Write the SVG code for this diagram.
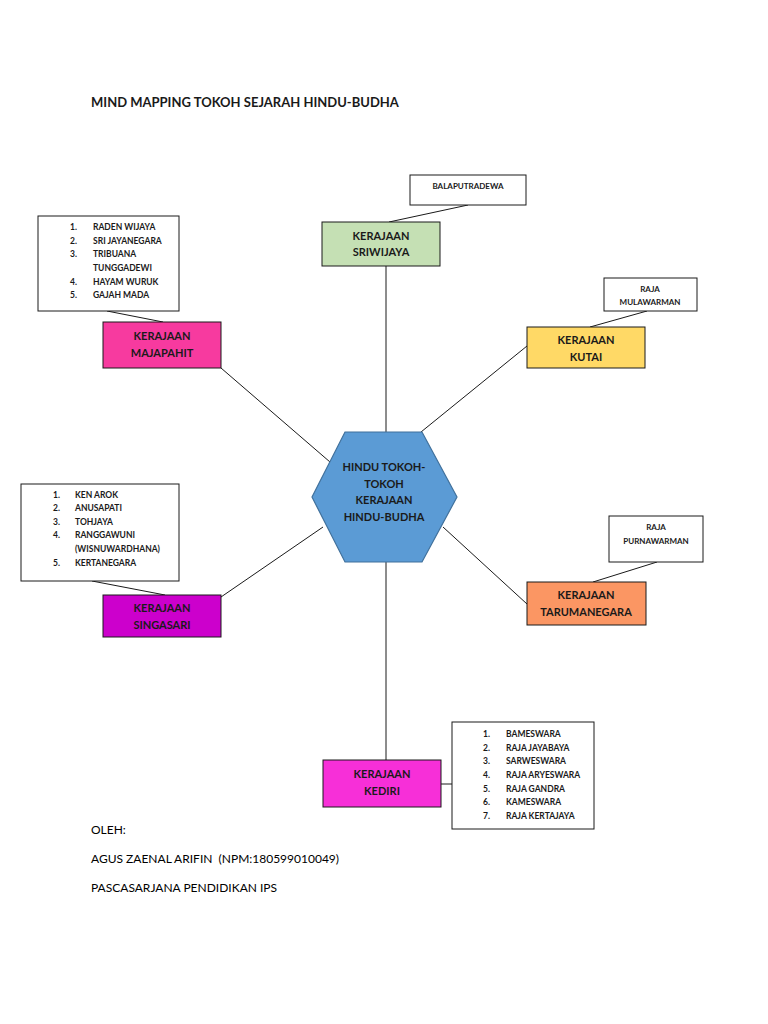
<svg xmlns="http://www.w3.org/2000/svg" width="768" height="1024" viewBox="0 0 768 1024">
<style>
text{font-family:Lato,"Open Sans","Liberation Sans",sans-serif;font-weight:bold;fill:#1a1a1a}
.hd{font-size:13px}
.ft{font-size:12px;font-weight:normal;fill:#000}
.bx{font-size:11px;text-anchor:middle}
.sm{font-size:8px;text-anchor:middle}
.li{font-size:8.5px}
.box{stroke:#1a1a1a;stroke-width:1}
.note{fill:#fff;stroke:#1a1a1a;stroke-width:1}
.ln{stroke:#1a1a1a;stroke-width:1;fill:none}
</style>
<rect width="768" height="1024" fill="#fff"/>
<text class="hd" x="91" y="107">MIND MAPPING TOKOH SEJARAH HINDU-BUDHA</text>

<g id="connectors">
<line class="ln" x1="386" y1="266" x2="386" y2="432"/>
<line class="ln" x1="221" y1="368" x2="330" y2="462"/>
<line class="ln" x1="527" y1="346" x2="421" y2="432"/>
<line class="ln" x1="221" y1="597" x2="323" y2="527"/>
<line class="ln" x1="527" y1="604" x2="443" y2="527"/>
<line class="ln" x1="386" y1="562" x2="386" y2="760"/>
<line class="ln" x1="441" y1="784" x2="452" y2="784"/>
<line class="ln" x1="389" y1="222" x2="468" y2="205"/>
<line class="ln" x1="107" y1="311" x2="163" y2="322"/>
<line class="ln" x1="590" y1="327" x2="647" y2="311"/>
<line class="ln" x1="92" y1="581" x2="165" y2="595"/>
<line class="ln" x1="593" y1="582" x2="657" y2="562"/>
</g>

<g id="center">
<polygon points="312,497 345,432 422,432 457,497 422,562 345,562" fill="#5b9bd5" stroke="#41719c" stroke-width="1.2"/>
<text class="bx" x="384" y="471">HINDU TOKOH-</text>
<text class="bx" x="384" y="488">TOKOH</text>
<text class="bx" x="384" y="504">KERAJAAN</text>
<text class="bx" x="384" y="521">HINDU-BUDHA</text>
</g>

<g id="sriwijaya">
<rect class="box" x="322" y="222" width="118" height="44" fill="#c5e0b4"/>
<text class="bx" x="381" y="240">KERAJAAN</text>
<text class="bx" x="381" y="256">SRIWIJAYA</text>
</g>
<g id="balaputradewa">
<rect class="note" x="410" y="175" width="116" height="30"/>
<text class="sm" x="468" y="189">BALAPUTRADEWA</text>
</g>

<g id="majapahit">
<rect class="box" x="103" y="322" width="118" height="46" fill="#f73a9f"/>
<text class="bx" x="162" y="340">KERAJAAN</text>
<text class="bx" x="162" y="357">MAJAPAHIT</text>
</g>
<g id="majapahit-list">
<rect class="note" x="38" y="216" width="141" height="95"/>
<text class="li" x="70" y="230">1.</text><text class="li" x="93" y="230">RADEN WIJAYA</text>
<text class="li" x="70" y="244">2.</text><text class="li" x="93" y="244">SRI JAYANEGARA</text>
<text class="li" x="70" y="257">3.</text><text class="li" x="93" y="257">TRIBUANA</text>
<text class="li" x="93" y="271">TUNGGADEWI</text>
<text class="li" x="70" y="285">4.</text><text class="li" x="93" y="285">HAYAM WURUK</text>
<text class="li" x="70" y="298">5.</text><text class="li" x="93" y="298">GAJAH MADA</text>
</g>

<g id="kutai">
<rect class="box" x="527" y="327" width="118" height="41" fill="#ffd966"/>
<text class="bx" x="586" y="344">KERAJAAN</text>
<text class="bx" x="586" y="361">KUTAI</text>
</g>
<g id="mulawarman">
<rect class="note" x="604" y="278" width="93" height="33"/>
<text class="sm" x="650" y="292">RAJA</text>
<text class="sm" x="650" y="305">MULAWARMAN</text>
</g>

<g id="singasari">
<rect class="box" x="103" y="595" width="118" height="42" fill="#cc00cc"/>
<text class="bx" x="162" y="612">KERAJAAN</text>
<text class="bx" x="162" y="629">SINGASARI</text>
</g>
<g id="singasari-list">
<rect class="note" x="21" y="484" width="158" height="97"/>
<text class="li" x="53" y="498">1.</text><text class="li" x="75" y="498">KEN AROK</text>
<text class="li" x="53" y="511">2.</text><text class="li" x="75" y="511">ANUSAPATI</text>
<text class="li" x="53" y="525">3.</text><text class="li" x="75" y="525">TOHJAYA</text>
<text class="li" x="53" y="538">4.</text><text class="li" x="75" y="538">RANGGAWUNI</text>
<text class="li" x="75" y="552">(WISNUWARDHANA)</text>
<text class="li" x="53" y="566">5.</text><text class="li" x="75" y="566">KERTANEGARA</text>
</g>

<g id="tarumanegara">
<rect class="box" x="527" y="582" width="119" height="43" fill="#fb9663"/>
<text class="bx" x="586" y="599">KERAJAAN</text>
<text class="bx" x="586" y="616">TARUMANEGARA</text>
</g>
<g id="purnawarman">
<rect class="note" x="609" y="516" width="94" height="46"/>
<text class="sm" x="656" y="530">RAJA</text>
<text class="sm" x="656" y="544">PURNAWARMAN</text>
</g>

<g id="kediri">
<rect class="box" x="323" y="760" width="118" height="47" fill="#f72fd8"/>
<text class="bx" x="382" y="778">KERAJAAN</text>
<text class="bx" x="382" y="795">KEDIRI</text>
</g>
<g id="kediri-list">
<rect class="note" x="452" y="722" width="142" height="107"/>
<text class="li" x="483" y="737">1.</text><text class="li" x="506" y="737">BAMESWARA</text>
<text class="li" x="483" y="751">2.</text><text class="li" x="506" y="751">RAJA JAYABAYA</text>
<text class="li" x="483" y="764">3.</text><text class="li" x="506" y="764">SARWESWARA</text>
<text class="li" x="483" y="778">4.</text><text class="li" x="506" y="778">RAJA ARYESWARA</text>
<text class="li" x="483" y="792">5.</text><text class="li" x="506" y="792">RAJA GANDRA</text>
<text class="li" x="483" y="805">6.</text><text class="li" x="506" y="805">KAMESWARA</text>
<text class="li" x="483" y="819">7.</text><text class="li" x="506" y="819">RAJA KERTAJAYA</text>
</g>

<text class="ft" x="91" y="834">OLEH:</text>
<text class="ft" x="91" y="863" xml:space="preserve">AGUS ZAENAL ARIFIN  (NPM:180599010049)</text>
<text class="ft" x="91" y="892">PASCASARJANA PENDIDIKAN IPS</text>
</svg>
